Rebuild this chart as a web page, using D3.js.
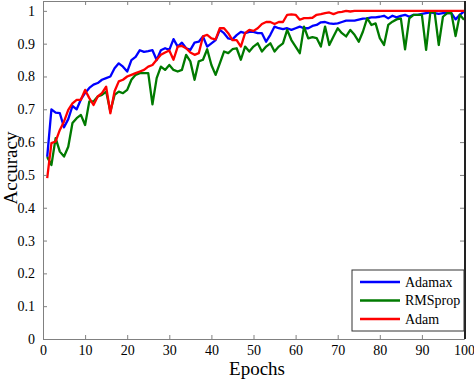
<!DOCTYPE html>
<html lang="en">
  <head>
    <meta charset="UTF-8" />
    <title>Accuracy vs Epochs</title>
    <script src="https://d3js.org/d3.v7.min.js"></script>
    <style>
      body {
        margin: 0;
        background: #fff;
      }
      svg {
        display: block;
        font-family: "Liberation Serif", "DejaVu Serif", serif;
      }
      .axis path,
      .axis line {
        stroke: #808080;
      }
      .axis text {
        font-size: 14px;
        fill: #000;
        font-family: "Liberation Serif", serif;
      }
      .axis-label {
        fill: #000;
      }
      .legend text {
        font-size: 14px;
      }
    </style>
  </head>
  <body>
    <div id="chart"></div>

    <script>
      // tick labels
      const xTicks = [0, 10, 20, 30, 40, 50, 60, 70, 80, 90, 100];
      const yTicks = [0, 0.1, 0.2, 0.3, 0.4, 0.5, 0.6, 0.7, 0.8, 0.9, 1];

      // epochs 1..100
      const epochs = d3.range(1, 101);

      const adamax = [
        0.555, 0.7, 0.69, 0.688, 0.645, 0.67, 0.71, 0.7, 0.73, 0.75,
        0.765, 0.775, 0.78, 0.79, 0.795, 0.8, 0.825, 0.84, 0.83, 0.815,
        0.85, 0.86, 0.88, 0.875, 0.877, 0.88, 0.85, 0.88, 0.886, 0.881,
        0.914, 0.891, 0.903, 0.886, 0.881, 0.903, 0.906, 0.922, 0.891, 0.901,
        0.911, 0.942, 0.932, 0.916, 0.913, 0.926, 0.936, 0.932, 0.936, 0.936,
        0.932, 0.932, 0.906, 0.927, 0.952, 0.947, 0.944, 0.947, 0.942, 0.947,
        0.952, 0.947, 0.947, 0.954, 0.957, 0.965, 0.966, 0.962, 0.96, 0.962,
        0.966, 0.97, 0.97, 0.97, 0.973, 0.976, 0.977, 0.98, 0.98, 0.982,
        0.985, 0.977, 0.985, 0.98, 0.985, 0.988, 0.982, 0.988, 0.988, 0.991,
        0.993, 0.995, 0.993, 0.991, 0.993, 0.993, 0.993, 0.974, 0.988, 0.998
      ];

      const rmsprop = [
        0.555, 0.53, 0.612, 0.571, 0.556, 0.586, 0.658, 0.673, 0.683, 0.652,
        0.724, 0.724, 0.739, 0.744, 0.754, 0.693, 0.744, 0.754, 0.749, 0.759,
        0.79, 0.805, 0.81, 0.81, 0.81, 0.715, 0.795, 0.83, 0.82, 0.835,
        0.82, 0.815, 0.82, 0.866, 0.846, 0.79, 0.846, 0.851, 0.883, 0.835,
        0.805, 0.84, 0.876, 0.871, 0.883, 0.886, 0.851, 0.891, 0.876, 0.891,
        0.901, 0.876, 0.891, 0.901, 0.876, 0.891, 0.901, 0.942, 0.911, 0.891,
        0.871, 0.952, 0.916, 0.92, 0.917, 0.891, 0.952, 0.896, 0.922, 0.947,
        0.932, 0.922, 0.942, 0.927, 0.906, 0.937, 0.978, 0.957, 0.962, 0.917,
        0.896, 0.957, 0.967, 0.974, 0.977, 0.883, 0.977, 0.988, 0.988, 0.988,
        0.881, 0.995, 0.998, 0.896, 0.982, 0.993, 0.993, 0.923, 0.988, 0.973
      ];

      const adam = [
        0.49, 0.597, 0.602, 0.637, 0.663, 0.698, 0.718, 0.729, 0.729, 0.759,
        0.734, 0.713, 0.739, 0.749, 0.769, 0.688, 0.755, 0.785, 0.79, 0.8,
        0.805, 0.81, 0.815, 0.82, 0.83, 0.835, 0.851, 0.866, 0.873, 0.879,
        0.851, 0.891, 0.893, 0.886, 0.873, 0.866, 0.871, 0.922, 0.927, 0.916,
        0.913, 0.947, 0.947, 0.932, 0.911, 0.911, 0.891, 0.932, 0.942, 0.939,
        0.947, 0.96, 0.966, 0.966, 0.96, 0.966, 0.966, 0.988, 0.989, 0.988,
        0.973, 0.978, 0.978, 0.979, 0.988, 0.99, 0.993, 0.995, 0.99, 0.995,
        0.997, 1, 0.998, 1, 1, 1, 1, 1, 1, 1,
        1, 1, 1, 1, 1, 1, 1, 1, 1, 1,
        1, 1, 1, 1, 1, 1, 1, 1, 1, 1
      ];

      const seriesNames = ["Adamax", "RMSprop", "Adam"];
      const seriesColors = ["#0000ff", "#007a00", "#ff0000"];
      const seriesValues = [adamax, rmsprop, adam];

      const width = 474,
        height = 379;
      const plot = { left: 43, right: 464, top: 1, bottom: 339 };

      const svg = d3
        .select("#chart")
        .append("svg")
        .attr("width", width)
        .attr("height", height);

      const x = d3.scaleLinear().domain([0, 100]).range([plot.left, plot.right]);
      const y = d3.scaleLinear().domain([0, 1.03]).range([plot.bottom, plot.top]);

      const fmt = (d) => (d === 0 || d === 1 ? String(d) : d.toFixed(1));

      // box: top and right edges with inward ticks
      svg
        .append("g")
        .attr("class", "axis")
        .attr("transform", `translate(0,${plot.top})`)
        .call(d3.axisTop(x).tickValues(xTicks).tickSizeInner(-4).tickSizeOuter(0).tickFormat(""));

      svg
        .append("g")
        .attr("class", "axis")
        .attr("transform", `translate(${plot.right},0)`)
        .call(d3.axisRight(y).tickValues(yTicks).tickSizeInner(-4).tickSizeOuter(0).tickFormat(""));

      // lines
      const line = d3
        .line()
        .x((d, i) => x(epochs[i]))
        .y((d) => y(d));

      seriesValues.forEach((vals, k) => {
        svg
          .append("path")
          .datum(vals)
          .attr("fill", "none")
          .attr("stroke", seriesColors[k])
          .attr("stroke-width", 2.3)
          .attr("stroke-linejoin", "round")
          .attr("d", line);
      });

      // x axis
      const xAxis = svg
        .append("g")
        .attr("class", "axis")
        .attr("transform", `translate(0,${plot.bottom})`)
        .call(d3.axisBottom(x).tickValues(xTicks).tickSizeInner(-4).tickSizeOuter(0).tickFormat((d) => d));
      xAxis.selectAll("text").attr("dy", "0.71em").attr("y", 6);

      // y axis
      svg
        .append("g")
        .attr("class", "axis")
        .attr("transform", `translate(${plot.left},0)`)
        .call(d3.axisLeft(y).tickValues(yTicks).tickSizeInner(-4).tickSizeOuter(0).tickPadding(8).tickFormat(fmt));

      // darker right edge
      svg
        .append("line")
        .attr("x1", plot.right + 1)
        .attr("x2", plot.right + 1)
        .attr("y1", plot.top)
        .attr("y2", plot.bottom)
        .attr("stroke", "#222")
        .attr("stroke-width", 2);

      // axis labels
      svg
        .append("text")
        .attr("class", "axis-label")
        .attr("x", 257)
        .attr("y", 375)
        .attr("text-anchor", "middle")
        .style("font-size", "19px")
        .text("Epochs");

      svg
        .append("text")
        .attr("class", "axis-label")
        .attr("transform", "translate(17,168) rotate(-90)")
        .attr("text-anchor", "middle")
        .style("font-size", "19px")
        .text("Accuracy");

      // legend
      const legend = svg.append("g").attr("class", "legend");
      legend
        .append("rect")
        .attr("x", 352)
        .attr("y", 270)
        .attr("width", 112)
        .attr("height", 61)
        .attr("fill", "#fff")
        .attr("stroke", "#333")
        .attr("stroke-width", 1);

      seriesNames.forEach((name, k) => {
        const ly = 282 + k * 18.5;
        legend
          .append("line")
          .attr("x1", 360)
          .attr("x2", 400)
          .attr("y1", ly)
          .attr("y2", ly)
          .attr("stroke", seriesColors[k])
          .attr("stroke-width", 2.3);
        legend
          .append("text")
          .attr("x", 405)
          .attr("y", ly)
          .attr("dy", "0.35em")
          .text(name);
      });
    </script>
  </body>
</html>
